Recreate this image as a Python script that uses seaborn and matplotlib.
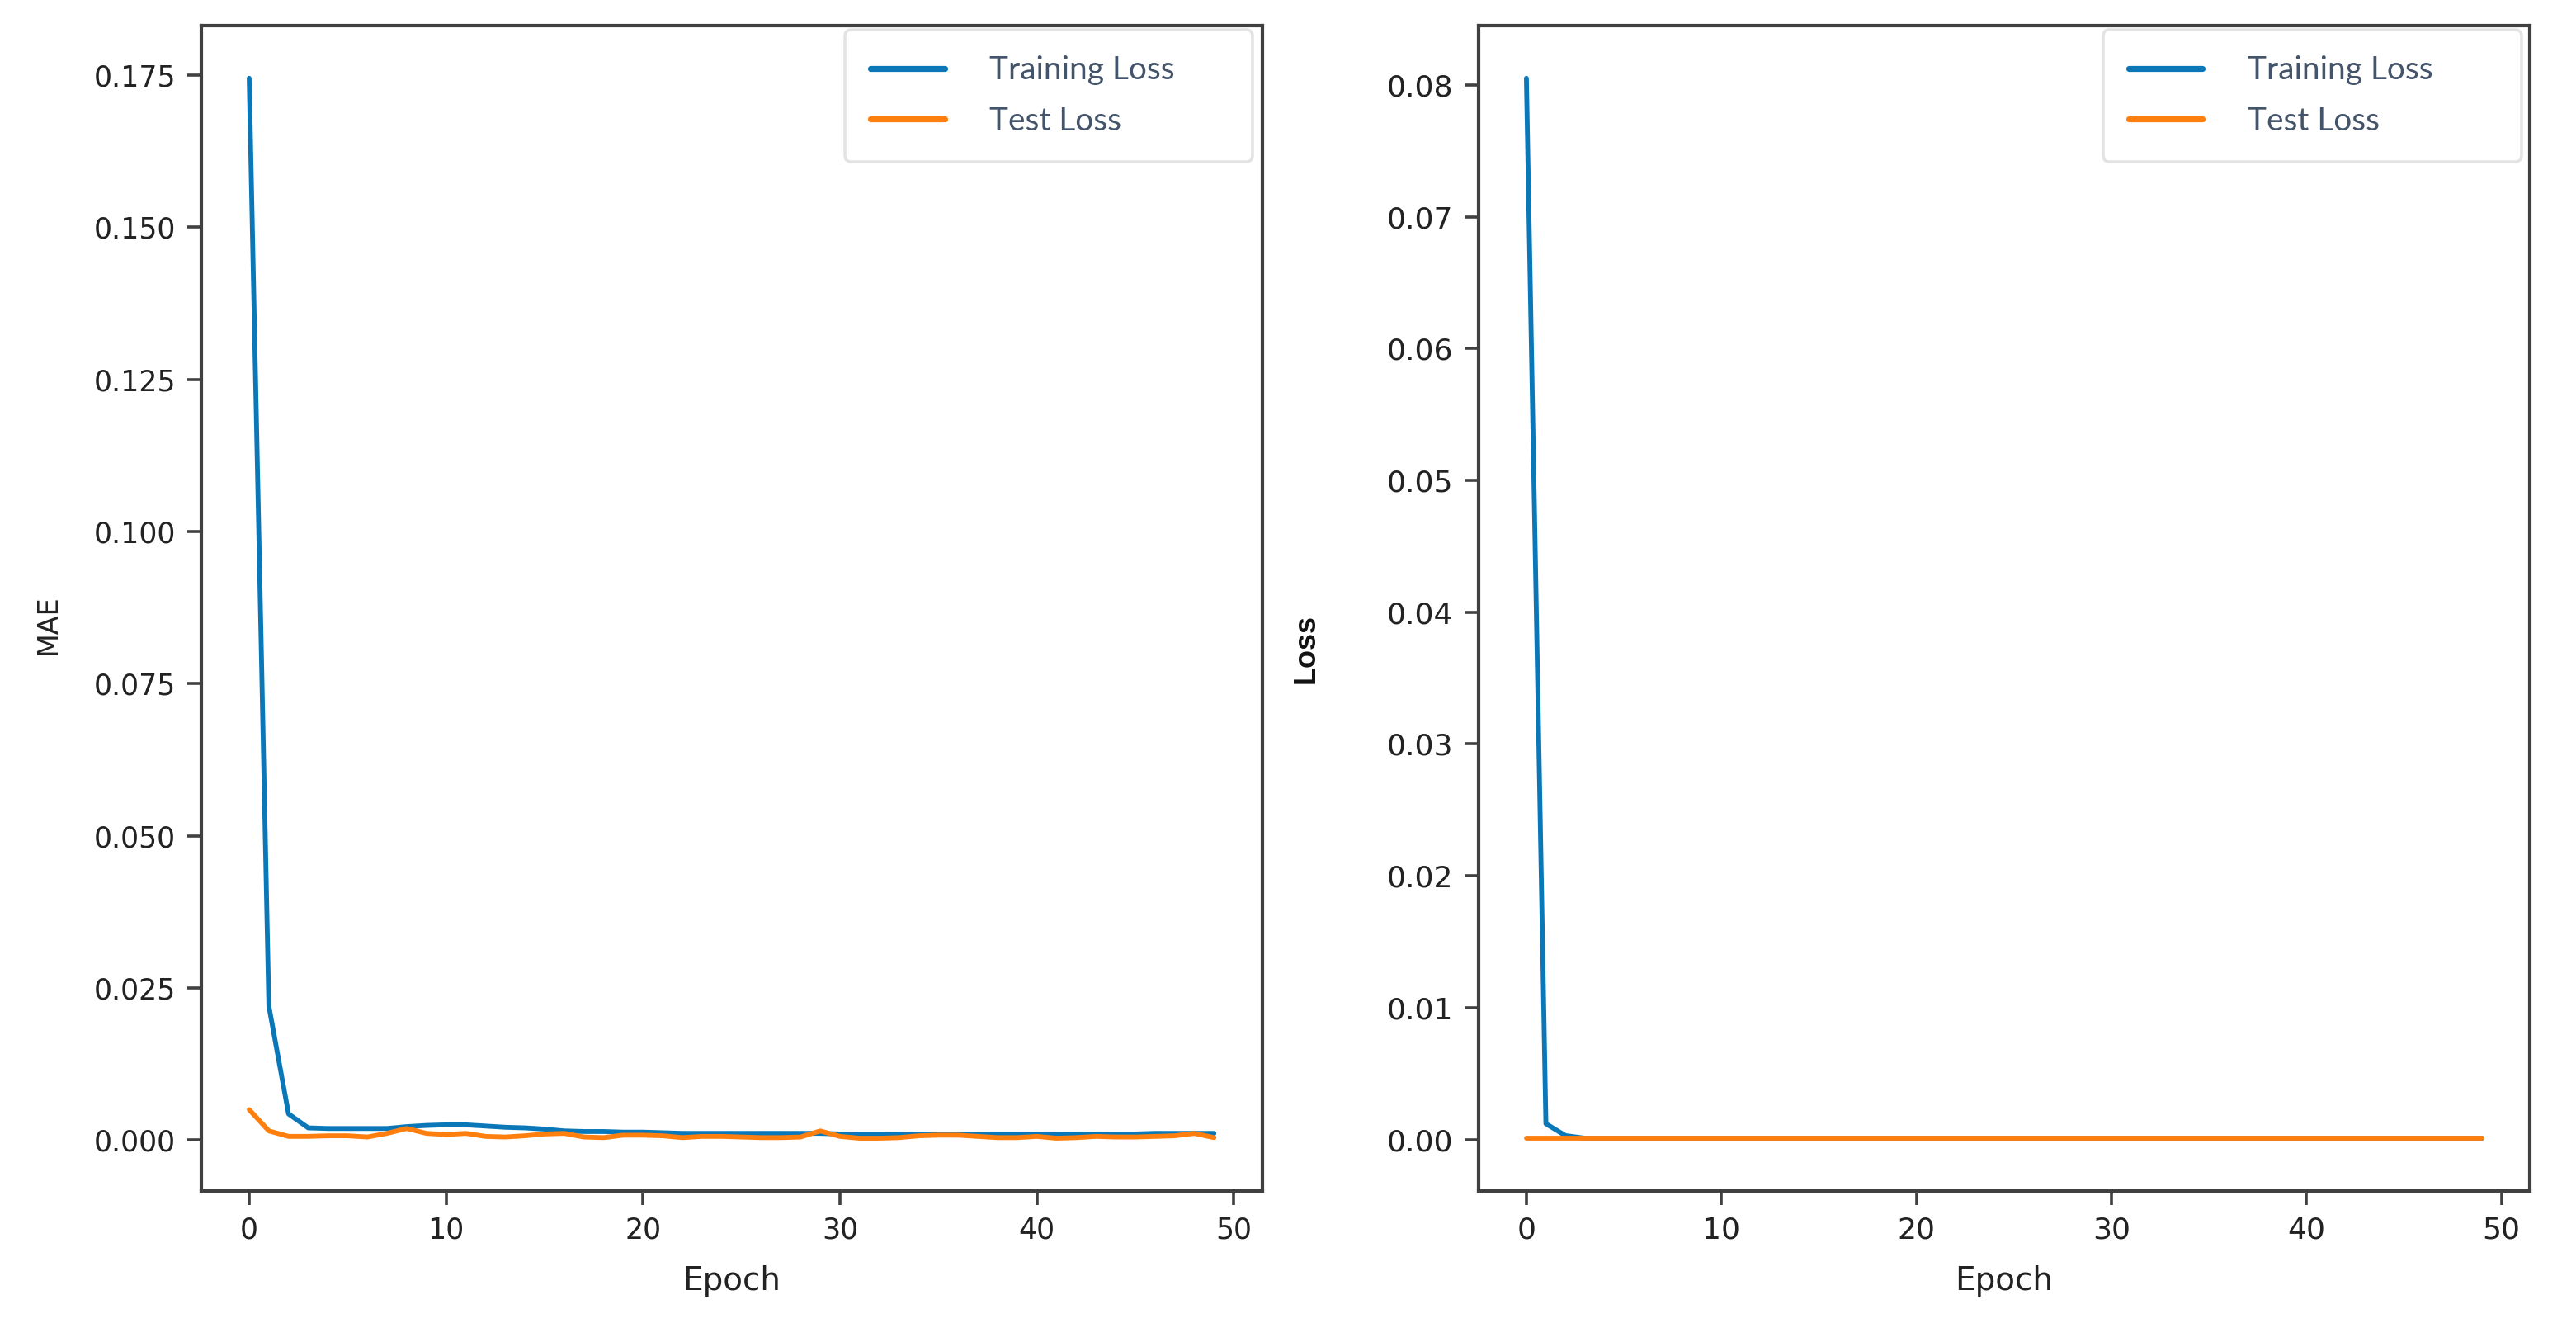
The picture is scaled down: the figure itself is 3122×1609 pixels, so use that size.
import numpy as np
import pandas as pd
import matplotlib
matplotlib.use("Agg")
import matplotlib.pyplot as plt
import seaborn as sns

# values
epochs = list(range(50))

mae_train = [0.1745, 0.0220, 0.0043, 0.0020, 0.0019, 0.0019, 0.0019, 0.0019, 0.0022, 0.0024,
             0.0025, 0.0025, 0.0023, 0.0021, 0.0020, 0.0018, 0.0015, 0.0014, 0.0014, 0.0013,
             0.0013, 0.0012, 0.0011, 0.0011, 0.0011, 0.0011, 0.0011, 0.0011, 0.0011, 0.0011,
             0.0010, 0.0010, 0.0010, 0.0010, 0.0010, 0.0010, 0.0010, 0.0010, 0.0010, 0.0010,
             0.0010, 0.0010, 0.0010, 0.0010, 0.0010, 0.0010, 0.0011, 0.0011, 0.0011, 0.0011]
mae_test = [0.0050, 0.0015, 0.0006, 0.0006, 0.0007, 0.0007, 0.0005, 0.0011, 0.0019, 0.0011,
            0.0009, 0.0011, 0.0006, 0.0005, 0.0007, 0.0010, 0.0011, 0.0005, 0.0004, 0.0008,
            0.0008, 0.0007, 0.0004, 0.0006, 0.0006, 0.0005, 0.0004, 0.0004, 0.0005, 0.0015,
            0.0006, 0.0003, 0.0003, 0.0004, 0.0007, 0.0008, 0.0008, 0.0006, 0.0004, 0.0004,
            0.0006, 0.0003, 0.0004, 0.0006, 0.0005, 0.0005, 0.0006, 0.0007, 0.0011, 0.0004]

loss_train = [0.0805, 0.0012, 0.0003] + [0.0001] * 47
loss_test = [0.0001] * 50

blue = "#0a78b8"
orange = "#ff7f0e"

def long_form(train, test):
    df = pd.DataFrame({"Epoch": epochs, "Training Loss": train, "Test Loss": test})
    return df.melt(id_vars="Epoch", var_name="series", value_name="value")

sns.set_theme(style="ticks")
plt.rcParams["font.family"] = ["DejaVu Sans"]
plt.rcParams["axes.edgecolor"] = "#404040"
plt.rcParams["axes.linewidth"] = 1.5
plt.rcParams["xtick.color"] = "#404040"
plt.rcParams["ytick.color"] = "#404040"
plt.rcParams["xtick.labelcolor"] = "#222222"
plt.rcParams["ytick.labelcolor"] = "#222222"

fig = plt.figure(figsize=(15.61, 8.045), dpi=200)
ax1 = fig.add_axes([0.078, 0.103, 0.412, 0.878])
ax2 = fig.add_axes([0.574, 0.103, 0.408, 0.878])

palette = {"Training Loss": blue, "Test Loss": orange}

sns.lineplot(data=long_form(mae_train, mae_test), x="Epoch", y="value", hue="series",
             palette=palette, linewidth=2.1, ax=ax1)
sns.lineplot(data=long_form(loss_train, loss_test), x="Epoch", y="value", hue="series",
             palette=palette, linewidth=2.1, ax=ax2)

ax1.set_yticks(np.arange(0, 0.176, 0.025))
ax1.yaxis.set_major_formatter(matplotlib.ticker.FormatStrFormatter("%.3f"))
ax2.set_yticks(np.arange(0, 0.081, 0.01))
ax2.yaxis.set_major_formatter(matplotlib.ticker.FormatStrFormatter("%.2f"))

ax1.set_ylabel("MAE", fontsize=12, color="#222222")
ax1.yaxis.set_label_coords(-0.131, 0.486)
ax2.set_ylabel("Loss", fontsize=13, fontweight="bold", family="Liberation Sans", color="#111111")
ax2.yaxis.set_label_coords(-0.150, 0.465)

ax1.tick_params(labelsize=12.5, length=6, width=1.3, pad=5)
ax2.tick_params(labelsize=13, length=6, width=1.3, pad=5)

legend_boxes = {ax1: (0.607, 0.885, 0.384, 0.111), ax2: (0.594, 0.885, 0.398, 0.111)}
for ax in (ax1, ax2):
    ax.set_xticks(range(0, 51, 10))
    ax.set_xlabel("Epoch", fontsize=14, color="#222222", labelpad=9)
    leg = ax.legend(loc="upper left", bbox_to_anchor=legend_boxes[ax], mode="expand",
                    handlelength=2.3, handletextpad=1.4,
                    prop={"family": "Lato", "size": 14}, frameon=True,
                    borderpad=0.8, labelspacing=0.65, borderaxespad=0)
    leg.get_frame().set_edgecolor("#dddddd")
    leg.get_frame().set_linewidth(1.3)
    for t in leg.get_texts():
        t.set_color("#44546a")
    for h in leg.get_lines():
        h.set_linewidth(2.6)

fig.savefig("out.png", dpi=200)
